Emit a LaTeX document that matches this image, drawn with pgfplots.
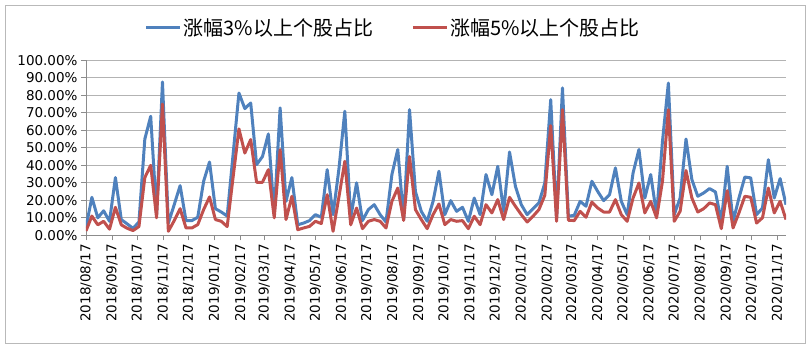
\documentclass[border=0pt]{standalone}
\usepackage{pgfplots}
\pgfplotsset{compat=1.18}
\usepackage{pgfplotstable}
\usepackage{fontspec}
\setmainfont{DejaVu Sans}
\newfontfamily\cjk{Noto Sans CJK SC}

\definecolor{upblue}{HTML}{4F81BD}
\definecolor{upred}{HTML}{C0504D}
\definecolor{gridgray}{HTML}{B3B3B3}
\definecolor{axisgray}{HTML}{8C8C8C}

% weekly share of stocks rising more than 3% / 5% (percent), week 0 = 2018/08/17
\pgfplotstableread{
wk  up3   up5
0   4.5   2.5
1   21.7  11
2   10    6
3   14    8
4   8     3.5
5   33    16
6   9     6
7   6.5   4
8   4     2.7
9   7.6   5
10  55    33
11  68    40
12  12    10
13  87.6  75
14  7     2.3
15  17.5  8.4
16  28.4  15.2
17  8.4   4.2
18  8.4   4.2
19  10.3  6.1
20  30.9  14.7
21  41.9  21.9
22  15.2  9
23  13.3  8
24  11    5
25  46    33
26  81.3  60.8
27  72.4  47
28  75.6  54.7
29  40.4  30.3
30  45    30.3
31  57.9  37.5
32  12    10
33  72.8  49
34  19.4  9
35  33    22.3
36  6     3.2
37  7     4.2
38  8.4   5.1
39  11.8  8
40  10.3  6.7
41  37.5  23.2
42  11.8  2.3
43  38    22
44  70.9  42.3
45  10    6
46  30    15.6
47  8.4   3.8
48  14.7  8
49  17.5  9
50  11.8  8
51  7.6   4.2
52  34.7  19.4
53  49    27
54  9     8.5
55  71.8  45
56  25    14.7
57  13.7  9
58  8     3.8
59  19.4  11.8
60  36.6  17.9
61  11.8  6.1
62  19.8  9
63  13.7  8
64  16    8.4
65  8     3.8
66  21.3  10.9
67  11.8  6.1
68  34.7  17.5
69  23.2  12.8
70  39.4  20.4
71  13.7  9
72  47.6  21.7
73  28    16.6
74  17.5  11.8
75  11.8  7.6
76  15.2  10.9
77  18.5  14.7
78  29.9  22.9
79  77.5  62.7
80  10    8
81  84.2  71.8
82  10.9  8.6
83  11.4  8.4
84  19.4  13.7
85  16.6  10.3
86  30.9  19
87  25    15.6
88  19.8  13.3
89  23.2  13.3
90  38.5  20.4
91  19.4  11.8
92  11.8  8
93  35.6  21.3
94  49    29.9
95  21.3  12.8
96  34.7  19.4
97  11.8  10
98  53.7  30.9
99  87    71.8
100 11.8  8
101 21.3  13.7
102 55    37
103 31.8  21.3
104 22.3  13.3
105 24.2  15.2
106 26.7  18.5
107 24.8  17.5
108 8     3.8
109 39.4  25.5
110 8     4.2
111 21.3  12.8
112 33.3  22.3
113 32.8  21.7
114 11.8  7
115 15.6  10
116 43.2  27
117 21.3  12.8
118 32.4  19.4
119 17.5  9
}\weekly

\begin{document}
\begin{tikzpicture}
\begin{axis}[
  at={(0,0)}, anchor=south west,
  scale only axis,
  width=700bp, height=175bp,
  xmin=0, xmax=833,
  ymin=0, ymax=100,
  axis x line*=bottom, axis y line*=left,
  axis line style={-, draw=axisgray, line width=0.8bp},
  tick align=outside,
  major tick length=5bp,
  tick style={draw=axisgray, line width=0.8bp},
  ymajorgrids,
  grid style={draw=gridgray, line width=0.8bp},
  ytick={0,10,...,100},
  yticklabels={0.00\%,10.00\%,20.00\%,30.00\%,40.00\%,50.00\%,60.00\%,70.00\%,80.00\%,90.00\%,100.00\%},
  xtick={0,31,61,92,122,153,184,212,243,273,304,334,365,396,426,457,487,518,549,578,609,639,670,700,731,762,792,823},
  xticklabels={2018/08/17,2018/09/17,2018/10/17,2018/11/17,2018/12/17,2019/01/17,2019/02/17,2019/03/17,2019/04/17,2019/05/17,2019/06/17,2019/07/17,2019/08/17,2019/09/17,2019/10/17,2019/11/17,2019/12/17,2020/01/17,2020/02/17,2020/03/17,2020/04/17,2020/05/17,2020/06/17,2020/07/17,2020/08/17,2020/09/17,2020/10/17,2020/11/17},
  /pgf/number format/assume math mode=true,
  tick label style={font=\fontsize{13.5bp}{16bp}\selectfont, text=black},
  x tick label style={rotate=90, anchor=east},
  legend columns=2,
  legend image code/.code={\draw[#1, line width=3bp] (0bp,0bp) -- (34bp,0bp);},
  legend style={draw=none, fill=none, at={(0.439,1.185)}, anchor=center,
    font=\cjk\fontsize{20bp}{24bp}\selectfont,
    /tikz/every even column/.append style={column sep=36bp}},
]
\addplot[upblue, line width=3bp, line join=round] table[x expr=\thisrow{wk}*7, y=up3] {\weekly};
\addlegendentry{涨幅3\%以上个股占比}
\addplot[upred, line width=3bp, line join=round] table[x expr=\thisrow{wk}*7, y=up5] {\weekly};
\addlegendentry{涨幅5\%以上个股占比}
\end{axis}
\draw[gray!55, line width=0.8bp] (-81bp,-107.7bp) rectangle (719bp,230.3bp);
\useasboundingbox (-86bp,-114.7bp) rectangle (725bp,235.3bp);
\end{tikzpicture}
\end{document}
